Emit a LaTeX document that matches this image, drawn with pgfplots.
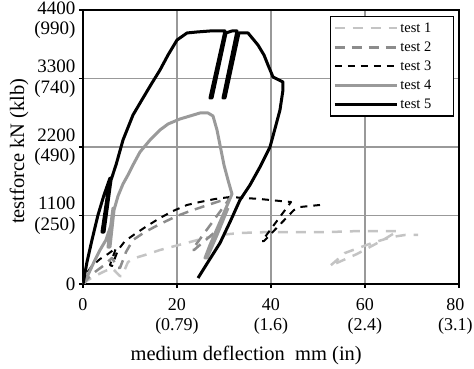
\documentclass[border=0pt]{standalone}
\usepackage{fontspec}
\setmainfont{Liberation Serif}
\usepackage{pgfplots}
\pgfplotsset{compat=1.18}
\definecolor{tA}{HTML}{C4C4C4}
\definecolor{tB}{HTML}{8C8C8C}
\definecolor{tD}{HTML}{9A9A9A}
\newcommand{\lt}[1]{\makebox[48pt][l]{#1}}
\begin{document}
\begin{tikzpicture}
\path[use as bounding box] (-83pt,-85pt) rectangle (391pt,284pt);
\begin{axis}[
  at={(0pt,0pt)}, anchor=origin,
  scale only axis, width=376pt, height=274pt,
  xmin=0, xmax=80, ymin=0, ymax=4400,
  xtick={0,20,40,60,80},
  xticklabels={0, 20\\(0.79), 40\\(1.6), 60\\(2.4), 80\kern7pt\\(3.1)\kern7pt},
  ytick={0,1100,2200,3300},
  yticklabels={0, 1100\\(250), 2200\\(490), 3300\\(740)},
  extra y ticks={4400}, extra y tick labels={4400\\(990)},
  extra y tick style={yticklabel style={yshift=-10pt}, grid=none},
  /pgf/number format/assume math mode=true,
  xticklabel style={align=center, font=\fontsize{18}{19.5}\selectfont, yshift=-7pt},
  yticklabel style={align=right, font=\fontsize{19}{20.5}\selectfont},
  grid=major, major grid style={color=gray!80, line width=1.3pt},
  axis line style={line width=2.2pt},
  tick style={black, line width=1.5pt},
  tick align=outside, major tick length=4pt,
  xtick pos=left, ytick pos=left,
  xlabel={medium deflection\ \ mm (in)},
  ylabel={testforce kN (klb)},
  label style={font=\fontsize{20.5}{21}\selectfont},
  xlabel style={at={(axis description cs:0.434,-0.259)}, anchor=center},
  ylabel style={at={(axis description cs:-0.170,0.485)}, anchor=center},
  legend style={at={(1,1)}, anchor=north east, xshift=-5pt, yshift=-6pt,
    draw=black, line width=1.3pt, font=\fontsize{14.5}{15}\selectfont,
    row sep=4pt, inner xsep=3pt, inner ysep=4pt},
  legend cell align=left,
  legend image code/.code={\path (0pt,0pt) -- (62pt,0pt);\draw[#1] (0pt,0pt) -- (57pt,0pt);},
  every axis plot/.append style={line join=round, line cap=butt},
]
\addplot[tA, line width=2.5pt, dash pattern=on 10pt off 8pt] coordinates {
(0,0) (1.06,64) (2.55,128) (4.26,193) (6.17,257)
(7.87,128) (8.30,128) (9.57,353)
(11.06,418) (13.19,466) (16.38,546) (19.57,610) (22.77,674) (25.96,739)
(29.15,787) (33.40,819) (39.79,835) (46.17,835) (52.55,835) (58.94,851)
(64.68,851) (67.02,851) (63.83,707) (58.30,482) (52.55,289)
(55.74,498) (61.49,658) (65.74,755) (68.51,787) (71.28,787)
};
\addlegendentry{\lt{test 1}}
\addplot[tB, line width=2.5pt, dash pattern=on 10pt off 7pt] coordinates {
(0,0) (1.06,96) (2.55,193) (4.26,289) (6.17,418)
(7.45,257) (7.87,257) (9.15,514)
(10.64,707) (13.19,835) (16.38,963) (20.0,1092) (22.77,1172) (25.96,1253)
(29.15,1333) (31.28,1381) (23.19,546) (23.62,546) (28.09,835)
};
\addlegendentry{\lt{test 2}}
\addplot[black, line width=2pt, dash pattern=on 7pt off 6pt] coordinates {
(0,0) (0.64,161) (1.91,289) (3.62,401) (5.32,482) (7.02,578)
(5.74,305) (6.17,289) (7.45,546)
(8.94,690) (11.06,803) (13.62,931) (16.38,1060) (19.15,1172) (22.13,1269)
(24.89,1317) (28.09,1365) (31.28,1397) (34.47,1381) (37.66,1365)
(41.91,1333) (44.26,1317) (38.09,690) (38.51,690) (44.89,1188)
(46.17,1236) (48.30,1253) (50.43,1269)
};
\addlegendentry{\lt{test 3}}
\addplot[tD, line width=3pt] coordinates {
(0,0) (1.06,145) (2.34,353) (3.62,546) (4.89,707) (5.96,947) (6.38,1220)
(5.32,594) (5.74,594) (6.60,1188)
(7.45,1413) (8.51,1606) (9.57,1750) (10.64,1911) (12.13,2120) (14.26,2312)
(16.38,2473) (18.09,2569) (20.64,2650) (22.77,2698) (24.89,2746) (26.60,2746)
(27.66,2698) (28.51,2473) (29.15,2232) (30.00,1911) (30.85,1670) (31.70,1445)
(29.15,996) (27.02,626) (25.96,418) (26.38,418) (28.51,787) (30.85,1220)
};
\addlegendentry{\lt{test 4}}
\addplot[black, line width=3pt] coordinates {
(0,0) (0.85,353) (1.91,707) (3.19,1108) (4.47,1429) (5.74,1702)
(4.04,835) (4.47,835) (5.96,1670)
(7.02,1911) (8.51,2312) (10.64,2714) (12.77,2987) (14.68,3228) (16.38,3436)
(18.09,3677) (20.0,3918) (22.13,4031) (24.26,4047) (27.02,4063) (30.21,4063)
(27.02,2987) (27.45,2987) (30.43,4031)
(31.70,4063) (32.77,4063)
(29.79,2987) (30.21,2987) (33.19,4031)
(35.11,4031) (37.23,3838) (38.51,3677) (39.36,3517) (40.43,3324)
(42.55,3244) (42.55,3115) (41.91,2794) (41.06,2553) (39.79,2200)
(37.66,1879) (35.53,1590) (33.40,1349) (31.28,996) (29.15,658)
(26.60,353) (24.47,96)
};
\addlegendentry{\lt{test 5}}
\end{axis}
\end{tikzpicture}
\end{document}
